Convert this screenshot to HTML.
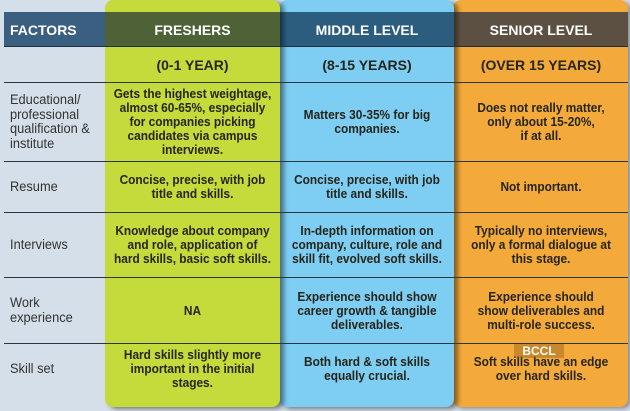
<!DOCTYPE html>
<html><head><meta charset="utf-8"><style>
*{margin:0;padding:0;box-sizing:border-box}
body{width:630px;height:411px;overflow:hidden;background:#d5dfe9;font-family:"Liberation Sans",sans-serif;position:relative}
.col{position:absolute;top:0;height:407px;border-radius:8px}
.g{left:105px;width:175px;background:#c5db3b;z-index:3;box-shadow:4px 2px 5px rgba(0,0,0,.45)}
.b{left:279px;width:175px;background:#7ecdf2;z-index:2;box-shadow:4px 2px 5px rgba(0,0,0,.45)}
.o{left:453px;width:175px;background:#f4aa3a;z-index:1;box-shadow:3px 2px 4px rgba(0,0,0,.35)}
.hd{position:absolute;top:12px;height:35px;z-index:5}
.line{position:absolute;left:4px;width:624px;height:1px;background:#2b3642;z-index:6}
.c{position:absolute;z-index:7;display:flex;align-items:center;justify-content:center;text-align:center;font-weight:bold;font-size:13.2px;line-height:14px;color:#25251a;transform:scaleX(0.9);white-space:nowrap}
.l{position:absolute;z-index:7;left:10px;width:100px;display:flex;align-items:center;font-size:13.5px;line-height:14.5px;color:#333;transform-origin:0 50%;transform:scaleX(0.95);white-space:nowrap}
.h{position:absolute;z-index:7;top:12px;height:35px;display:flex;align-items:center;justify-content:center;color:#fff;font-weight:bold;font-size:14px}
.s{position:absolute;z-index:7;top:47px;height:35px;display:flex;align-items:center;justify-content:center;color:#25251a;font-weight:bold;font-size:14px}
</style></head><body>
<div class="col g"></div><div class="col b"></div><div class="col o"></div>

<div class="hd" style="left:4px;width:101px;background:#3a5f80"></div>
<div class="hd" style="left:105px;width:175px;background:#4e6137"></div>
<div class="hd" style="left:280px;width:174px;background:linear-gradient(90deg,#14324a 0,#2c5d7e 7px)"></div>
<div class="hd" style="left:454px;width:174px;background:linear-gradient(90deg,#3a3020 0,#5b5041 7px)"></div>
<div class="line" style="top:46px;background:#1f3040"></div>

<div class="h" style="left:10px;width:80px;justify-content:flex-start">FACTORS</div>
<div class="h" style="left:105px;width:175px">FRESHERS</div>
<div class="h" style="left:280px;width:174px">MIDDLE LEVEL</div>
<div class="h" style="left:454px;width:174px">SENIOR LEVEL</div>

<div class="s" style="left:105px;width:175px">(0-1 YEAR)</div>
<div class="s" style="left:280px;width:174px">(8-15 YEARS)</div>
<div class="s" style="left:454px;width:174px">(OVER 15 YEARS)</div>

<div class="line" style="top:82px"></div>
<div class="line" style="top:161px"></div>
<div class="line" style="top:212px"></div>
<div class="line" style="top:277px"></div>
<div class="line" style="top:343px"></div>

<!-- row 1 -->
<div class="l" style="top:83px;height:78px">Educational/<br>professional<br>qualification &amp;<br>institute</div>
<div class="c" style="left:105px;width:175px;top:83px;height:78px">Gets the highest weightage,<br>almost 60-65%, especially<br>for companies picking<br>candidates via campus<br>interviews.</div>
<div class="c" style="left:280px;width:174px;top:83px;height:78px">Matters 30-35% for big<br>companies.</div>
<div class="c" style="left:454px;width:174px;top:83px;height:78px">Does not really matter,<br>only about 15-20%,<br>if at all.</div>

<!-- row 2 -->
<div class="l" style="top:162px;height:50px">Resume</div>
<div class="c" style="left:105px;width:175px;top:162px;height:50px">Concise, precise, with job<br>title and skills.</div>
<div class="c" style="left:280px;width:174px;top:162px;height:50px">Concise, precise, with job<br>title and skills.</div>
<div class="c" style="left:454px;width:174px;top:162px;height:50px">Not important.</div>

<!-- row 3 -->
<div class="l" style="top:213px;height:64px">Interviews</div>
<div class="c" style="left:105px;width:175px;top:213px;height:64px">Knowledge about company<br>and role, application of<br>hard skills, basic soft skills.</div>
<div class="c" style="left:280px;width:174px;top:213px;height:64px">In-depth information on<br>company, culture, role and<br>skill fit, evolved soft skills.</div>
<div class="c" style="left:454px;width:174px;top:213px;height:64px">Typically no interviews,<br>only a formal dialogue at<br>this stage.</div>

<!-- row 4 -->
<div class="l" style="top:278px;height:65px">Work<br>experience</div>
<div class="c" style="left:105px;width:175px;top:278px;height:65px">NA</div>
<div class="c" style="left:280px;width:174px;top:278px;height:65px">Experience should show<br>career growth &amp; tangible<br>deliverables.</div>
<div class="c" style="left:454px;width:174px;top:278px;height:65px">Experience should<br>show deliverables and<br>multi-role success.</div>

<!-- row 5 -->
<div class="l" style="top:344px;height:50px">Skill set</div>
<div class="c" style="left:105px;width:175px;top:344px;height:50px">Hard skills slightly more<br>important in the initial<br>stages.</div>
<div class="c" style="left:280px;width:174px;top:344px;height:50px">Both hard &amp; soft skills<br>equally crucial.</div>
<div class="c" style="left:454px;width:174px;top:344px;height:50px">Soft skills have an edge<br>over hard skills.</div>

<div style="position:absolute;left:514px;top:344px;width:50px;height:14px;background:rgba(150,95,30,.45);z-index:8;color:#fff;font-weight:bold;font-size:12px;line-height:14px;text-align:center">BCCL</div>
</body></html>
